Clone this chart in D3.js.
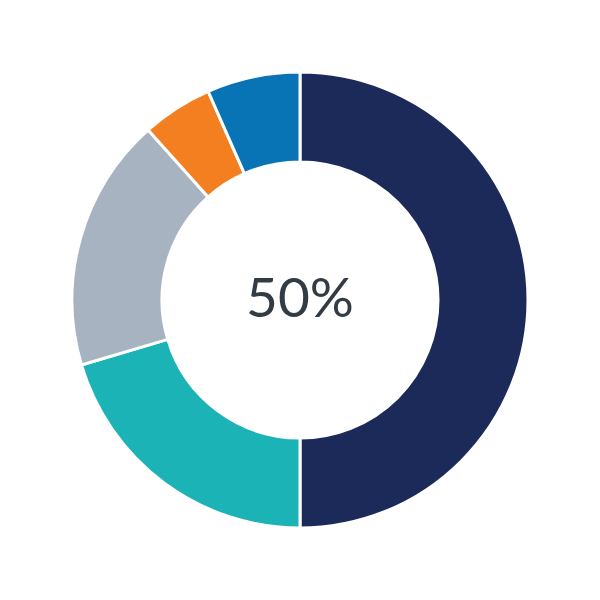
<!DOCTYPE html>
<html>
<head>
<meta charset="utf-8">
<script src="https://cdn.jsdelivr.net/npm/d3@7"></script>
<style>
  body { margin: 0; background: #fff; }
</style>
</head>
<body>
<script>
// Slice data, clockwise from 12 o'clock
var labels = ["A", "B", "C", "D", "E"];
var values = [50, 20.4, 18, 5, 6.6];
var colors = ["#1c2a59", "#1bb3b6", "#a8b3c2", "#f47f20", "#0873b5"];
var centerLabel = "50%";

var w = 600;
var h = 600;
var outerR = 228;
var innerR = 138;

var svg = d3.select("body")
    .append("svg")
    .attr("width", w)
    .attr("height", h);

var g = svg.append("g")
    .attr("transform", "translate(" + (w / 2) + "," + (h / 2) + ")");

var pie = d3.pie()
    .sort(null)
    .value(function(d) { return d; });

var arc = d3.arc()
    .innerRadius(innerR)
    .outerRadius(outerR);

g.selectAll("path")
    .data(pie(values))
    .enter().append("path")
    .attr("d", arc)
    .style("fill", function(d, i) { return colors[i]; })
    .style("stroke", "#fff")
    .style("stroke-width", 3);

// Center label
g.append("text")
    .attr("x", 0)
    .attr("y", -2)
    .attr("dy", "0.35em")
    .style("text-anchor", "middle")
    .style("font-family", "Lato, sans-serif")
    .style("font-size", "55px")
    .style("fill", "#333b45")
    .text(centerLabel);
</script>
</body>
</html>
